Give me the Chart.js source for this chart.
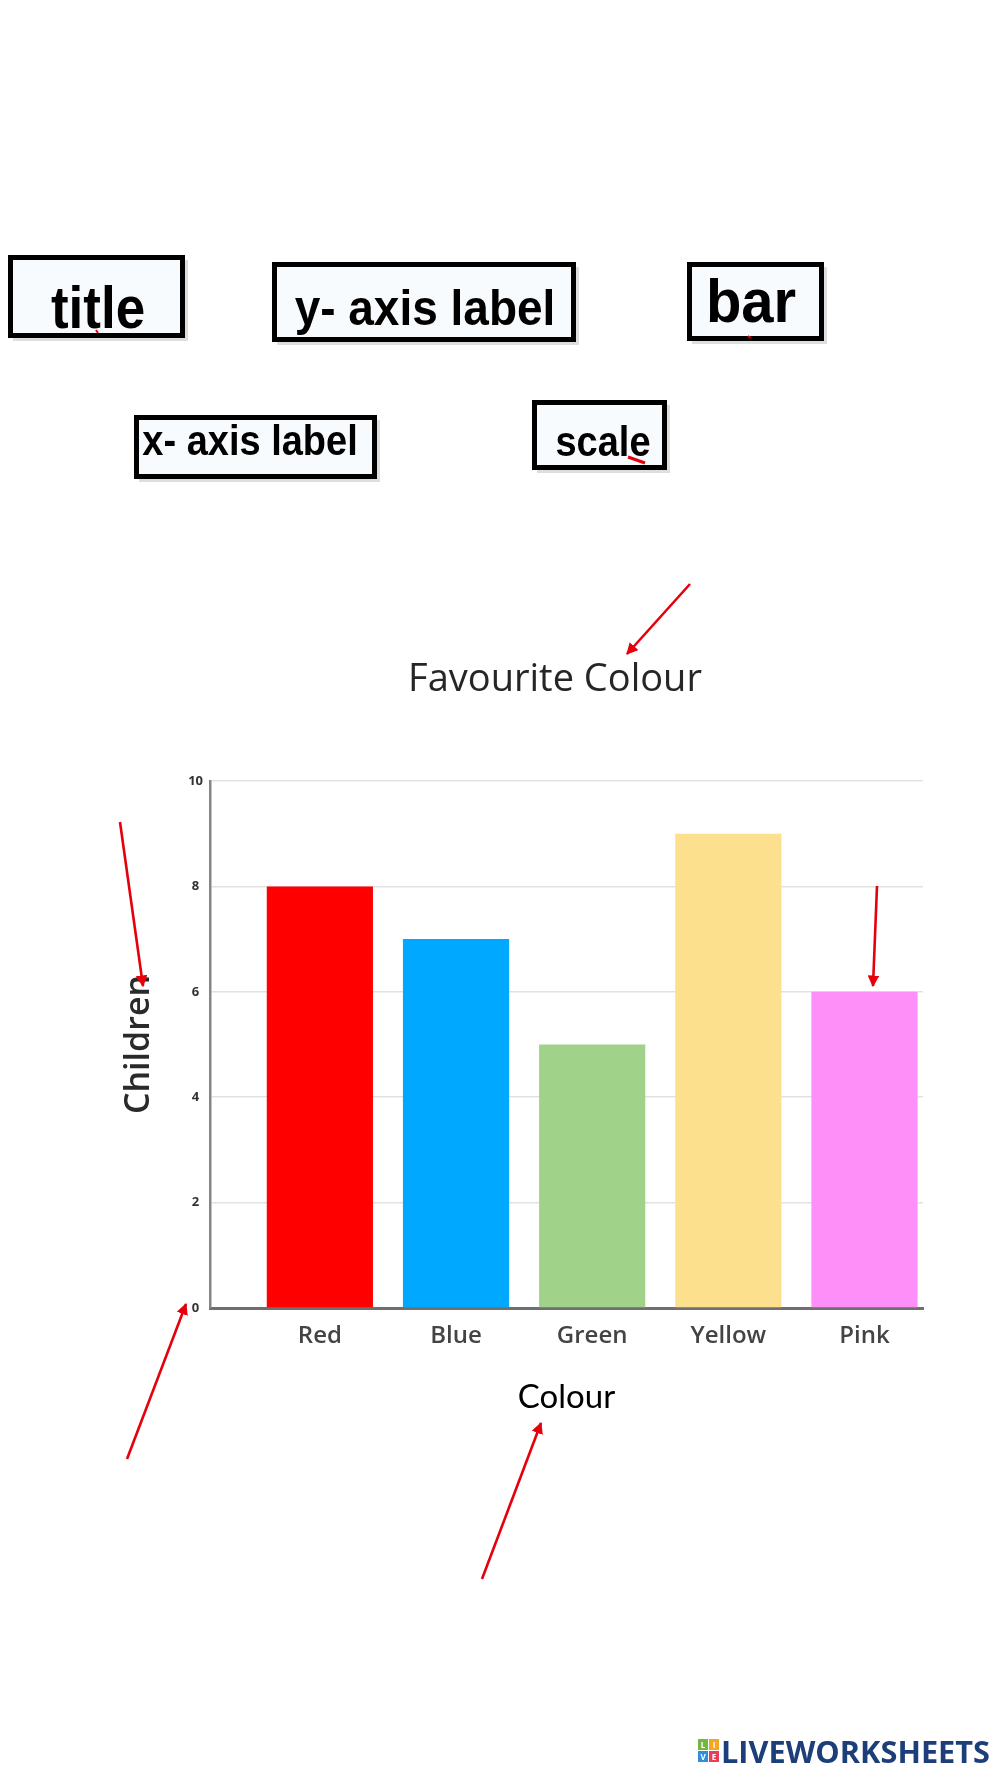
<!DOCTYPE html>
<html>
<head>
<meta charset="utf-8">
<script src="https://cdn.jsdelivr.net/npm/chart.js@4.4.1/dist/chart.umd.min.js"></script>
<style>
  html, body { margin: 0; padding: 0; background: #ffffff; }
  body { width: 1000px; height: 1776px; position: relative; overflow: hidden; }
  #chartWrap { position: absolute; left: 0; top: 603px; width: 1000px; height: 850px; }
  #overlay { position: absolute; left: 0; top: 0; width: 1000px; height: 1776px; pointer-events: none; }
</style>
</head>
<body>
<div id="chartWrap"><canvas id="c" width="1000" height="850"></canvas></div>

<svg id="overlay" width="1000" height="1776" viewBox="0 0 1000 1776" xmlns="http://www.w3.org/2000/svg">
  <defs>
    <marker id="ah" viewBox="0 0 10 10" refX="9" refY="5" markerWidth="4.5" markerHeight="4.5" orient="auto">
      <path d="M0,0 L10,5 L0,10 z" fill="#e5000c"/>
    </marker>
  </defs>
  <g font-family="'Liberation Sans', Arial, sans-serif" font-weight="bold" fill="#000">
    <!-- title box -->
    <rect x="13" y="260" width="175" height="81" fill="#a0a0a0" opacity="0.35"/>
    <rect x="10.5" y="257.5" width="172" height="78" fill="#f8fbfd" stroke="#000" stroke-width="5"/>
    <text transform="translate(98,328) scale(1,1.1)" text-anchor="middle" font-size="53">title</text>
    <!-- y- axis label box -->
    <rect x="277" y="267" width="302" height="78" fill="#a0a0a0" opacity="0.35"/>
    <rect x="274.5" y="264.5" width="299" height="75" fill="#f8fbfd" stroke="#000" stroke-width="5"/>
    <text transform="translate(425,325) scale(1,1.1)" text-anchor="middle" font-size="46">y- axis label</text>
    <!-- bar box -->
    <rect x="692" y="267" width="135" height="77" fill="#a0a0a0" opacity="0.35"/>
    <rect x="689.5" y="264.5" width="132" height="74" fill="#f8fbfd" stroke="#000" stroke-width="5"/>
    <text transform="translate(751,322) scale(1,1.05)" text-anchor="middle" font-size="58">bar</text>
    <!-- x- axis label box -->
    <rect x="139" y="420" width="241" height="62" fill="#a0a0a0" opacity="0.35"/>
    <rect x="136.5" y="417.5" width="238" height="59" fill="#f8fbfd" stroke="#000" stroke-width="5"/>
    <text transform="translate(250,455) scale(1,1.1)" text-anchor="middle" font-size="38">x- axis label</text>
    <!-- scale box -->
    <rect x="537" y="405" width="133" height="68" fill="#a0a0a0" opacity="0.35"/>
    <rect x="534.5" y="402.5" width="130" height="65" fill="#f8fbfd" stroke="#000" stroke-width="5"/>
    <text transform="translate(603,456) scale(1,1.1)" text-anchor="middle" font-size="38">scale</text>
  </g>
  <!-- small red marks -->
  <line x1="96" y1="330" x2="98" y2="333" stroke="#e5000c" stroke-width="2"/>
  <line x1="748" y1="336" x2="751" y2="338" stroke="#e5000c" stroke-width="2"/>
  <line x1="628" y1="457" x2="645" y2="463" stroke="#e5000c" stroke-width="3"/>

  <!-- arrows -->
  <g stroke="#e5000c" stroke-width="2.6" fill="none" marker-end="url(#ah)">
    <line x1="690" y1="584" x2="627" y2="654"/>
    <line x1="120" y1="822" x2="143" y2="986"/>
    <line x1="877" y1="886" x2="873" y2="986"/>
    <line x1="127" y1="1459" x2="186" y2="1304"/>
    <line x1="482" y1="1579" x2="541" y2="1423"/>
  </g>

  <!-- logo -->
  <g font-family="'Open Sans', 'Noto Sans', sans-serif" font-weight="bold">
    <rect x="698" y="1739" width="10" height="11" fill="#74b83f"/>
    <rect x="709" y="1739" width="10" height="11" fill="#f5a623"/>
    <rect x="698" y="1751" width="10" height="11" fill="#2f8fdc"/>
    <rect x="709" y="1751" width="10" height="11" fill="#e83e5a"/>
    <text x="703" y="1748" font-size="8" fill="#fff" text-anchor="middle">L</text>
    <text x="714" y="1748" font-size="8" fill="#fff" text-anchor="middle">I</text>
    <text x="703" y="1760" font-size="8" fill="#fff" text-anchor="middle">V</text>
    <text x="714" y="1760" font-size="8" fill="#fff" text-anchor="middle">E</text>
    <text x="721" y="1763" font-size="31" fill="#1c3f7a" textLength="269" lengthAdjust="spacingAndGlyphs">LIVEWORKSHEETS</text>
  </g>
</svg>

<script>
// ---- data ----
const categories = ['Red', 'Blue', 'Green', 'Yellow', 'Pink'];
const values = [8, 7, 5, 9, 6];
const barColours = ['#ff0000', '#00a8ff', '#a1d28a', '#fde08d', '#fe8ff9'];
const yTickValues = [0, 2, 4, 6, 8, 10];
const chartTitle = 'Favourite Colour';
const xAxisTitle = 'Colour';
const yAxisTitle = 'Children';

const points = values.map((v, i) => ({ x: i, y: v }));

new Chart(document.getElementById('c'), {
  type: 'bar',
  data: {
    datasets: [{
      data: points,
      backgroundColor: barColours,
      borderWidth: 0,
      barPercentage: 0.78,
      categoryPercentage: 1,
      clip: 0
    }]
  },
  options: {
    responsive: false,
    animation: false,
    events: [],
    layout: { padding: { left: 187, right: 77, top: 0, bottom: 0 } },
    plugins: {
      legend: { display: false },
      tooltip: { enabled: false },
      title: {
        display: true,
        text: chartTitle,
        color: '#262626',
        font: { family: "'Open Sans', 'Noto Sans', sans-serif", size: 38, weight: '500', lineHeight: 1.2 },
        padding: { top: 54, bottom: 78.4 }
      }
    },
    scales: {
      x: {
        type: 'linear',
        min: -0.807,
        max: 4.43,
        offset: false,
        afterBuildTicks: (scale) => { scale.ticks = categories.map((c, i) => ({ value: i })); },
        afterFit: (scale) => { scale.height = 145; },
        grid: { display: false, drawTicks: false },
        border: { display: true, color: '#6f6f6f', width: 3 },
        ticks: {
          autoSkip: false,
          maxRotation: 0,
          padding: 14,
          color: '#444444',
          font: { family: "'Open Sans', 'Noto Sans', sans-serif", size: 24, weight: '600', lineHeight: 1.2 },
          callback: (v) => categories[v] !== undefined ? categories[v] : ''
        },
        title: {
          display: true,
          text: xAxisTitle,
          color: '#000000',
          font: { family: "Lato, 'Open Sans', sans-serif", size: 33, lineHeight: 1.2 },
          padding: { top: 0, bottom: 36 }
        }
      },
      y: {
        min: 0,
        max: 10,
        afterBuildTicks: (scale) => { scale.ticks = yTickValues.map(v => ({ value: v })); },
        afterFit: (scale) => { scale.width = 23; },
        grid: { color: '#e2e2e2', lineWidth: 1.5, drawTicks: false },
        border: { display: true, color: '#858585', width: 2.5 },
        ticks: {
          padding: 7,
          crossAlign: 'center',
          color: '#333333',
          font: { family: "'Open Sans', 'Noto Sans', sans-serif", size: 13, weight: 'bold' }
        },
        title: {
          display: true,
          text: yAxisTitle,
          color: '#2a2a2a',
          font: { family: "'Open Sans', 'Noto Sans', sans-serif", size: 34, weight: '600', lineHeight: 1.2 },
          padding: { top: -68.4, bottom: 0 }
        }
      }
    }
  }
});
</script>
</body>
</html>
